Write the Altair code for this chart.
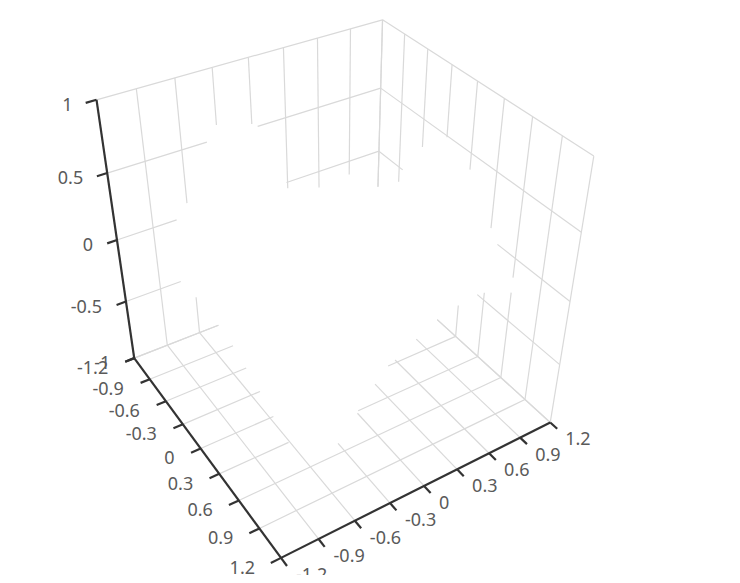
import numpy as np
import pandas as pd
import altair as alt

# ---------------- data ----------------
x_ticks = [-1.2, -0.9, -0.6, -0.3, 0, 0.3, 0.6, 0.9, 1.2]
y_ticks = [-1.2, -0.9, -0.6, -0.3, 0, 0.3, 0.6, 0.9, 1.2]
z_ticks = [-1, -0.5, 0, 0.5, 1]
x_labels = ["-1.2", "-0.9", "-0.6", "-0.3", "0", "0.3", "0.6", "0.9", "1.2"]
y_labels = ["-1.2", "-0.9", "-0.6", "-0.3", "0", "0.3", "0.6", "0.9", "1.2"]
z_labels = ["-1", "-0.5", "0", "0.5", "1"]

# visible stretches of every grid line (the rest is hidden behind the white surface)
# back wall y = -1.2 : (x, z_from, z_to)
back_vert = [(-1.2, -1, 1), (-0.9, -1, 1), (-0.6, -1, -0.68), (-0.6, 0.1, 1), (-0.3, 0.6, 1),
             (0, 0.53, 1), (0.3, -0.05, 1), (0.6, -0.13, 1), (0.9, -0.11, 1), (1.2, -0.3, 1)]
# back wall y = -1.2 : (z, x_from, x_to)
back_horiz = [(-1, -1.2, -0.42), (-0.5, -1.2, -0.72), (0, -1.2, -0.7), (0, 0.29, 1.2),
              (0.5, -1.2, -0.39), (0.5, 0.05, 1.2), (1, -1.2, 1.2)]
# side wall x = 1.2 : (y, z_from, z_to)
side_vert = [(-1.2, -0.3, 1), (-0.9, -0.12, 1), (-0.6, 0.29, 1), (-0.3, 0.49, 1),
             (0, -1, -0.72), (0, 0.38, 1), (0.3, -1, -0.44), (0.3, 0.08, 1),
             (0.6, -1, -0.27), (0.6, -0.15, 1), (0.9, -1, 1), (1.2, -1, 1)]
# side wall x = 1.2 : (z, y_from, y_to)
side_horiz = [(-1, -0.26, 1.2), (-0.5, 0.22, 1.2), (0, -1.2, -0.85), (0, 0.39, 1.2),
              (0.5, -1.2, 1.2), (1, -1.2, 1.2)]
# floor z = -1 : (x, y_from, y_to)
floor_xlines = [(-1.2, -1.2, 1.2), (-0.9, -1.2, 1.2), (-0.6, -1.2, 1.2), (-0.3, 0.51, 1.2),
                (0, 0.32, 1.2), (0.3, 0.12, 1.2), (0.6, -0.03, 1.2), (0.9, -0.15, 1.2), (1.2, -0.26, 1.2)]
# floor z = -1 : (y, x_from, x_to)
floor_ylines = [(-1.2, -1.2, -0.42), (-0.9, -1.2, -0.44), (-0.6, -1.2, -0.48), (-0.3, -1.2, -0.52),
                (0, -1.2, -0.57), (0, 0.51, 1.2), (0.3, -1.2, -0.61), (0.3, 0.02, 1.2),
                (0.6, -1.2, 1.2), (0.9, -1.2, 1.2), (1.2, -1.2, 1.2)]

# ---------------- 3D view (camera) ----------------
CAM = dict(theta=np.radians(37.416), phi=np.radians(122.414), d=342.40, F=1122.43, cx=335.41, cy=269.67)


def world(p):
    p = np.asarray(p, dtype=float)
    return np.stack([p[..., 0] / 1.2 * 50, p[..., 1] / 1.2 * 50, p[..., 2] * 50], axis=-1)


def proj(pts):
    Pw = world(np.atleast_2d(pts))
    th, ph, d = CAM["theta"], CAM["phi"], CAM["d"]
    ct, st = np.cos(th), np.sin(th)
    hx, hy = np.cos(ph), np.sin(ph)
    C = np.array([d * ct * hx, d * ct * hy, d * st])
    v = Pw - C
    depth = -(v[:, 0] * ct * hx + v[:, 1] * ct * hy + v[:, 2] * st)
    vr = v[:, 0] * hy - v[:, 1] * hx
    vu = -st * hx * v[:, 0] - st * hy * v[:, 1] + ct * v[:, 2]
    return np.stack([CAM["cx"] + CAM["F"] * vr / depth, CAM["cy"] - CAM["F"] * vu / depth], axis=1)


X0, X1 = x_ticks[0], x_ticks[-1]
Y0, Y1 = y_ticks[0], y_ticks[-1]
Z0, Z1 = z_ticks[0], z_ticks[-1]

rows = []


def seg(p1, p2, kind):
    q = proj(np.array([p1, p2]))
    rows.append(dict(x=q[0, 0], y=q[0, 1], x2=q[1, 0], y2=q[1, 1], kind=kind))


for xv, a, b in back_vert:
    seg((xv, Y0, a), (xv, Y0, b), "grid")
for zv, a, b in back_horiz:
    seg((a, Y0, zv), (b, Y0, zv), "grid")
for yv, a, b in side_vert:
    seg((X1, yv, a), (X1, yv, b), "grid")
for zv, a, b in side_horiz:
    seg((X1, a, zv), (X1, b, zv), "grid")
for xv, a, b in floor_xlines:
    seg((xv, a, Z0), (xv, b, Z0), "grid")
for yv, a, b in floor_ylines:
    seg((a, yv, Z0), (b, yv, Z0), "grid")

# axis lines + ticks
seg((X0, Y0, Z0), (X0, Y0, Z1), "axis")
seg((X0, Y0, Z0), (X0, Y1, Z0), "axis")
seg((X0, Y1, Z0), (X1, Y1, Z0), "axis")
tk = 0.08
for xv in x_ticks:
    seg((xv, Y1, Z0), (xv, Y1 + tk, Z0), "axis")
for yv in y_ticks:
    seg((X0, yv, Z0), (X0 - tk, yv, Z0), "axis")
for zv in z_ticks:
    seg((X0, Y0, zv), (X0 - tk, Y0, zv), "axis")
segs = pd.DataFrame(rows)

lab = []
q = proj(np.array([(xv, Y1, Z0) for xv in x_ticks]))
for (px, py), t in zip(q, x_labels):
    lab.append(dict(x=px, y=py, t=t, axis="x"))
q = proj(np.array([(X0, yv, Z0) for yv in y_ticks]))
for (px, py), t in zip(q, y_labels):
    lab.append(dict(x=px, y=py, t=t, axis="y"))
q = proj(np.array([(X0, Y0, zv) for zv in z_ticks]))
for (px, py), t in zip(q, z_labels):
    lab.append(dict(x=px, y=py, t=t, axis="z"))
labs = pd.DataFrame(lab)

# ---------------- chart ----------------
W, H = 724, 567
xs = alt.Scale(domain=[8, 8 + W], range=[0, W])
ys = alt.Scale(domain=[8, 8 + H], range=[0, H])
enc = dict(x=alt.X("x:Q", scale=xs, axis=None), y=alt.Y("y:Q", scale=ys, axis=None))

base = alt.Chart(segs)
grid = base.transform_filter(alt.datum.kind == "grid").mark_rule(color="#d9d9d9", strokeWidth=1.2).encode(
    x2="x2:Q", y2="y2:Q", **enc)
axis = base.transform_filter(alt.datum.kind == "axis").mark_rule(color="#333333", strokeWidth=2.2).encode(
    x2="x2:Q", y2="y2:Q", **enc)

fnt = dict(font="Noto Sans", fontSize=18, color="#5a5a5a", baseline="middle")
lx = alt.Chart(labs).transform_filter(alt.datum.axis == "x").mark_text(align="left", dx=15, dy=18, **fnt).encode(
    text="t:N", **enc)
ly = alt.Chart(labs).transform_filter(alt.datum.axis == "y").mark_text(align="right", dx=-26, dy=11, **fnt).encode(
    text="t:N", **enc)
lz = alt.Chart(labs).transform_filter(alt.datum.axis == "z").mark_text(align="right", dx=-24, dy=6, **fnt).encode(
    text="t:N", **enc)

chart = alt.layer(grid, axis, lx, ly, lz).properties(
    width=W, height=H, padding=0, autosize="none").configure_view(strokeWidth=0)
chart.save("out.html", embed_options={"renderer": "svg", "actions": False})
